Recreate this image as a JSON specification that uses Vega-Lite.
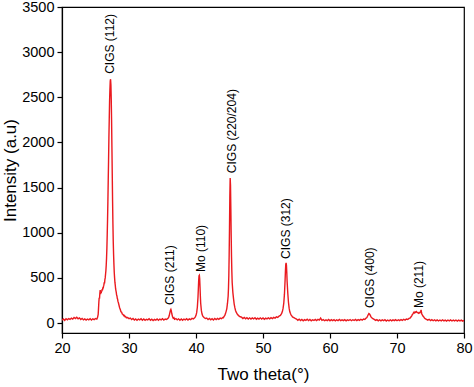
{
  "$schema": "https://vega.github.io/schema/vega-lite/v6.json",
  "width": 402,
  "height": 326,
  "autosize": {"type": "none"},
  "padding": {"left": 62, "top": 7, "right": 10, "bottom": 54},
  "background": "white",
  "config": {
    "font": "Liberation Sans",
    "view": {"stroke": "black", "strokeWidth": 1.2},
    "axis": {"domainColor": "black", "tickColor": "black", "labelColor": "black", "titleColor": "black", "grid": false, "domainWidth": 1.2, "tickWidth": 1.2, "labelFont": "Liberation Sans", "titleFont": "Liberation Sans", "titleFontWeight": "normal"}
  },
  "datasets": {
    "xrd": [
      {"t":20.0,"i":32},{"t":20.2,"i":45},{"t":20.4,"i":30},{"t":20.6,"i":48},{"t":20.8,"i":36},{"t":21.0,"i":50},{"t":21.2,"i":40},{"t":21.4,"i":55},{"t":21.6,"i":44},{"t":21.8,"i":62},{"t":22.0,"i":50},{"t":22.2,"i":65},{"t":22.4,"i":48},{"t":22.6,"i":58},{"t":22.8,"i":40},{"t":23.0,"i":52},{"t":23.2,"i":35},{"t":23.4,"i":46},{"t":23.6,"i":33},{"t":23.8,"i":45},{"t":24.0,"i":36},{"t":24.2,"i":48},{"t":24.4,"i":34},{"t":24.6,"i":47},{"t":24.8,"i":38},{"t":25.0,"i":50},{"t":25.2,"i":44},
      {"t":25.3,"i":60},{"t":25.4,"i":95},{"t":25.45,"i":160},{"t":25.5,"i":230},{"t":25.55,"i":280},{"t":25.6,"i":270},{"t":25.65,"i":330},{"t":25.7,"i":365},{"t":25.75,"i":320},{"t":25.8,"i":345},{"t":25.85,"i":330},{"t":25.9,"i":360},{"t":25.95,"i":350},{"t":26.0,"i":375},{"t":26.05,"i":365},{"t":26.1,"i":395},{"t":26.15,"i":385},{"t":26.2,"i":410},{"t":26.25,"i":420},{"t":26.3,"i":450},{"t":26.35,"i":440},{"t":26.4,"i":480},{"t":26.45,"i":500},{"t":26.5,"i":540},{"t":26.55,"i":580},{"t":26.6,"i":640},{"t":26.65,"i":720},{"t":26.7,"i":830},{"t":26.75,"i":980},{"t":26.8,"i":1150},{"t":26.85,"i":1350},{"t":26.9,"i":1580},{"t":26.95,"i":1800},{"t":27.0,"i":2050},{"t":27.05,"i":2250},{"t":27.1,"i":2450},{"t":27.15,"i":2580},{"t":27.2,"i":2680},{"t":27.25,"i":2700},{"t":27.3,"i":2640},{"t":27.35,"i":2480},{"t":27.4,"i":2250},{"t":27.45,"i":1950},{"t":27.5,"i":1650},{"t":27.55,"i":1350},{"t":27.6,"i":1100},{"t":27.65,"i":900},{"t":27.7,"i":760},{"t":27.75,"i":650},{"t":27.8,"i":560},{"t":27.85,"i":500},{"t":27.9,"i":450},{"t":27.95,"i":420},{"t":28.0,"i":380},{"t":28.05,"i":360},{"t":28.1,"i":340},{"t":28.15,"i":310},{"t":28.2,"i":300},{"t":28.25,"i":275},{"t":28.3,"i":265},{"t":28.35,"i":240},{"t":28.4,"i":230},{"t":28.5,"i":200},{"t":28.6,"i":170},{"t":28.7,"i":150},{"t":28.8,"i":125},{"t":28.9,"i":120},{"t":29.0,"i":100},{"t":29.1,"i":95},{"t":29.2,"i":82},{"t":29.3,"i":85},{"t":29.4,"i":70},{"t":29.5,"i":72},{"t":29.6,"i":60},{"t":29.8,"i":62},{"t":30.0,"i":48},
      {"t":30.2,"i":55},{"t":30.4,"i":38},{"t":30.6,"i":50},{"t":30.8,"i":34},{"t":31.0,"i":46},{"t":31.2,"i":30},{"t":31.4,"i":44},{"t":31.6,"i":36},{"t":31.8,"i":48},{"t":32.0,"i":32},{"t":32.2,"i":45},{"t":32.4,"i":30},{"t":32.6,"i":42},{"t":32.8,"i":35},{"t":33.0,"i":47},{"t":33.2,"i":31},{"t":33.4,"i":43},{"t":33.6,"i":29},{"t":33.8,"i":41},{"t":34.0,"i":33},{"t":34.2,"i":46},{"t":34.4,"i":30},{"t":34.6,"i":44},{"t":34.8,"i":36},{"t":35.0,"i":48},{"t":35.2,"i":34},{"t":35.4,"i":45},{"t":35.6,"i":40},
      {"t":35.8,"i":52},{"t":35.9,"i":60},{"t":36.0,"i":80},{"t":36.1,"i":115},{"t":36.2,"i":145},{"t":36.25,"i":152},{"t":36.3,"i":140},{"t":36.4,"i":100},{"t":36.5,"i":70},{"t":36.6,"i":55},{"t":36.7,"i":60},{"t":36.8,"i":42},
      {"t":37.0,"i":50},{"t":37.2,"i":35},{"t":37.4,"i":47},{"t":37.6,"i":32},{"t":37.8,"i":45},{"t":38.0,"i":30},{"t":38.2,"i":44},{"t":38.4,"i":36},{"t":38.6,"i":48},{"t":38.8,"i":33},{"t":39.0,"i":46},{"t":39.2,"i":38},{"t":39.4,"i":52},{"t":39.6,"i":45},{"t":39.8,"i":60},
      {"t":39.9,"i":68},{"t":40.0,"i":85},{"t":40.1,"i":115},{"t":40.2,"i":175},{"t":40.3,"i":290},{"t":40.35,"i":380},{"t":40.4,"i":470},{"t":40.45,"i":525},{"t":40.5,"i":530},{"t":40.55,"i":490},{"t":40.6,"i":400},{"t":40.65,"i":300},{"t":40.7,"i":220},{"t":40.8,"i":140},{"t":40.9,"i":100},{"t":41.0,"i":80},{"t":41.1,"i":70},{"t":41.2,"i":62},{"t":41.4,"i":50},{"t":41.6,"i":55},{"t":41.8,"i":38},{"t":42.0,"i":50},
      {"t":42.2,"i":36},{"t":42.4,"i":48},{"t":42.6,"i":34},{"t":42.8,"i":50},{"t":43.0,"i":38},{"t":43.2,"i":52},{"t":43.4,"i":42},{"t":43.6,"i":55},{"t":43.8,"i":48},{"t":44.0,"i":62},
      {"t":44.1,"i":60},{"t":44.2,"i":75},{"t":44.3,"i":85},{"t":44.4,"i":105},{"t":44.5,"i":130},{"t":44.6,"i":160},{"t":44.7,"i":220},{"t":44.8,"i":300},{"t":44.85,"i":390},{"t":44.9,"i":530},{"t":44.95,"i":760},{"t":45.0,"i":1050},{"t":45.05,"i":1400},{"t":45.1,"i":1605},{"t":45.15,"i":1530},{"t":45.2,"i":1270},{"t":45.25,"i":980},{"t":45.3,"i":740},{"t":45.35,"i":570},{"t":45.4,"i":450},{"t":45.5,"i":340},{"t":45.6,"i":270},{"t":45.7,"i":210},{"t":45.8,"i":170},{"t":45.9,"i":140},{"t":46.0,"i":120},{"t":46.2,"i":95},{"t":46.4,"i":80},{"t":46.6,"i":70},{"t":46.8,"i":65},
      {"t":47.0,"i":50},{"t":47.2,"i":62},{"t":47.4,"i":48},{"t":47.6,"i":60},{"t":47.8,"i":45},{"t":48.0,"i":58},{"t":48.2,"i":44},{"t":48.4,"i":57},{"t":48.6,"i":46},{"t":48.8,"i":60},{"t":49.0,"i":42},{"t":49.2,"i":55},{"t":49.4,"i":44},{"t":49.6,"i":58},{"t":49.8,"i":45},{"t":50.0,"i":56},{"t":50.2,"i":42},{"t":50.4,"i":54},{"t":50.6,"i":46},{"t":50.8,"i":58},{"t":51.0,"i":47},{"t":51.2,"i":60},{"t":51.4,"i":50},{"t":51.6,"i":63},{"t":51.8,"i":55},{"t":52.0,"i":68},{"t":52.2,"i":62},{"t":52.4,"i":78},{"t":52.6,"i":85},
      {"t":52.7,"i":95},{"t":52.8,"i":110},{"t":52.9,"i":130},{"t":53.0,"i":165},{"t":53.1,"i":220},{"t":53.2,"i":320},{"t":53.3,"i":480},{"t":53.35,"i":580},{"t":53.4,"i":650},{"t":53.45,"i":667},{"t":53.5,"i":640},{"t":53.55,"i":560},{"t":53.6,"i":460},{"t":53.7,"i":330},{"t":53.8,"i":230},{"t":53.9,"i":165},{"t":54.0,"i":125},{"t":54.1,"i":105},{"t":54.2,"i":88},{"t":54.3,"i":80},{"t":54.4,"i":68},{"t":54.6,"i":60},{"t":54.8,"i":52},
      {"t":55.0,"i":45},{"t":55.2,"i":30},{"t":55.4,"i":42},{"t":55.6,"i":28},{"t":55.8,"i":40},{"t":56.0,"i":26},{"t":56.2,"i":38},{"t":56.4,"i":30},{"t":56.6,"i":42},{"t":56.8,"i":27},{"t":57.0,"i":39},{"t":57.2,"i":25},{"t":57.4,"i":37},{"t":57.6,"i":29},{"t":57.8,"i":41},{"t":58.0,"i":28},{"t":58.2,"i":40},{"t":58.4,"i":32},{"t":58.6,"i":55},{"t":58.8,"i":30},{"t":59.0,"i":38},{"t":59.2,"i":26},{"t":59.4,"i":36},{"t":59.6,"i":28},{"t":59.8,"i":40},{"t":60.0,"i":25},{"t":60.2,"i":37},{"t":60.4,"i":27},{"t":60.6,"i":38},{"t":60.8,"i":24},{"t":61.0,"i":36},{"t":61.2,"i":28},{"t":61.4,"i":40},{"t":61.6,"i":26},{"t":61.8,"i":35},{"t":62.0,"i":27},{"t":62.2,"i":38},{"t":62.4,"i":25},{"t":62.6,"i":36},{"t":62.8,"i":28},{"t":63.0,"i":39},{"t":63.2,"i":26},{"t":63.4,"i":37},{"t":63.6,"i":29},{"t":63.8,"i":40},{"t":64.0,"i":27},{"t":64.2,"i":38},{"t":64.4,"i":30},{"t":64.6,"i":42},{"t":64.8,"i":32},{"t":65.0,"i":45},{"t":65.2,"i":40},
      {"t":65.4,"i":55},{"t":65.5,"i":62},{"t":65.6,"i":75},{"t":65.7,"i":92},{"t":65.8,"i":105},{"t":65.9,"i":100},{"t":66.0,"i":88},{"t":66.1,"i":72},{"t":66.2,"i":60},{"t":66.4,"i":48},{"t":66.6,"i":40},{"t":66.8,"i":30},{"t":67.0,"i":38},
      {"t":67.2,"i":25},{"t":67.4,"i":36},{"t":67.6,"i":24},{"t":67.8,"i":35},{"t":68.0,"i":26},{"t":68.2,"i":37},{"t":68.4,"i":23},{"t":68.6,"i":34},{"t":68.8,"i":25},{"t":69.0,"i":36},{"t":69.2,"i":24},{"t":69.4,"i":35},{"t":69.6,"i":27},{"t":69.8,"i":38},{"t":70.0,"i":26},{"t":70.2,"i":37},{"t":70.4,"i":28},{"t":70.6,"i":39},{"t":70.8,"i":30},{"t":71.0,"i":42},{"t":71.2,"i":33},{"t":71.4,"i":45},{"t":71.6,"i":40},{"t":71.8,"i":52},
      {"t":72.0,"i":58},{"t":72.1,"i":70},{"t":72.2,"i":80},{"t":72.3,"i":95},{"t":72.4,"i":105},{"t":72.5,"i":118},{"t":72.6,"i":112},{"t":72.7,"i":125},{"t":72.8,"i":118},{"t":72.9,"i":128},{"t":73.0,"i":120},{"t":73.1,"i":115},{"t":73.2,"i":108},{"t":73.3,"i":118},{"t":73.4,"i":112},{"t":73.5,"i":125},{"t":73.6,"i":145},{"t":73.65,"i":120},{"t":73.7,"i":100},{"t":73.8,"i":88},{"t":73.9,"i":75},{"t":74.0,"i":68},{"t":74.1,"i":55},{"t":74.2,"i":50},{"t":74.4,"i":40},
      {"t":74.6,"i":32},{"t":74.8,"i":42},{"t":75.0,"i":28},{"t":75.2,"i":38},{"t":75.4,"i":26},{"t":75.6,"i":36},{"t":75.8,"i":24},{"t":76.0,"i":35},{"t":76.2,"i":23},{"t":76.4,"i":34},{"t":76.6,"i":25},{"t":76.8,"i":36},{"t":77.0,"i":24},{"t":77.2,"i":33},{"t":77.4,"i":22},{"t":77.6,"i":34},{"t":77.8,"i":25},{"t":78.0,"i":35},{"t":78.2,"i":23},{"t":78.4,"i":33},{"t":78.6,"i":24},{"t":78.8,"i":34},{"t":79.0,"i":22},{"t":79.2,"i":32},{"t":79.4,"i":24},{"t":79.6,"i":33},{"t":79.8,"i":22},{"t":80.0,"i":30}
    ],
    "labels": [
      {"t":27.2,"i":2760,"label":"CIGS (112)"},
      {"t":36.1,"i":200,"label":"CIGS (211)"},
      {"t":40.7,"i":565,"label":"Mo (110)"},
      {"t":45.3,"i":1660,"label":"CIGS (220/204)"},
      {"t":53.5,"i":710,"label":"CIGS (312)"},
      {"t":66.0,"i":166,"label":"CIGS (400)"},
      {"t":73.3,"i":166,"label":"Mo (211)"}
    ]
  },
  "layer": [
    {
      "data": {"name": "xrd"},
      "mark": {"type": "line", "color": "#ea1a1f", "strokeWidth": 1.4, "clip": true},
      "encoding": {
        "x": {
          "field": "t", "type": "quantitative",
          "scale": {"domain": [20, 80], "nice": false, "zero": false},
          "axis": {
            "title": "Two theta(°)",
            "values": [20,25,30,35,40,45,50,55,60,65,70,75,80],
            "labelExpr": "datum.value % 10 === 0 ? datum.label : ''",
            "tickSize": {"condition": {"test": "datum.value % 10 === 0", "value": 5}, "value": 3},
            "labelPadding": 3,
            "labelFontSize": 14.5,
            "titleFontSize": 17,
            "titlePadding": 12,
            "labelFlush": false,
            "labelOverlap": false
          }
        },
        "y": {
          "field": "i", "type": "quantitative",
          "scale": {"domain": [-110, 3500], "nice": false, "zero": false},
          "axis": {
            "title": "Intensity (a.u)",
            "values": [0,250,500,750,1000,1250,1500,1750,2000,2250,2500,2750,3000,3250,3500],
            "labelExpr": "datum.value % 500 === 0 ? datum.label : ''",
            "format": "d",
            "tickSize": {"condition": {"test": "datum.value % 500 === 0", "value": 5}, "value": 3},
            "labelPadding": 3,
            "labelFontSize": 14.5,
            "titleFontSize": 17,
            "titlePadding": 2,
            "labelFlush": false,
            "labelOverlap": false
          }
        }
      }
    },
    {
      "data": {"name": "labels"},
      "mark": {"type": "text", "angle": 270, "align": "left", "baseline": "middle", "fontSize": 12, "font": "Liberation Sans", "color": "black"},
      "encoding": {
        "x": {"field": "t", "type": "quantitative"},
        "y": {"field": "i", "type": "quantitative"},
        "text": {"field": "label"}
      }
    }
  ]
}
